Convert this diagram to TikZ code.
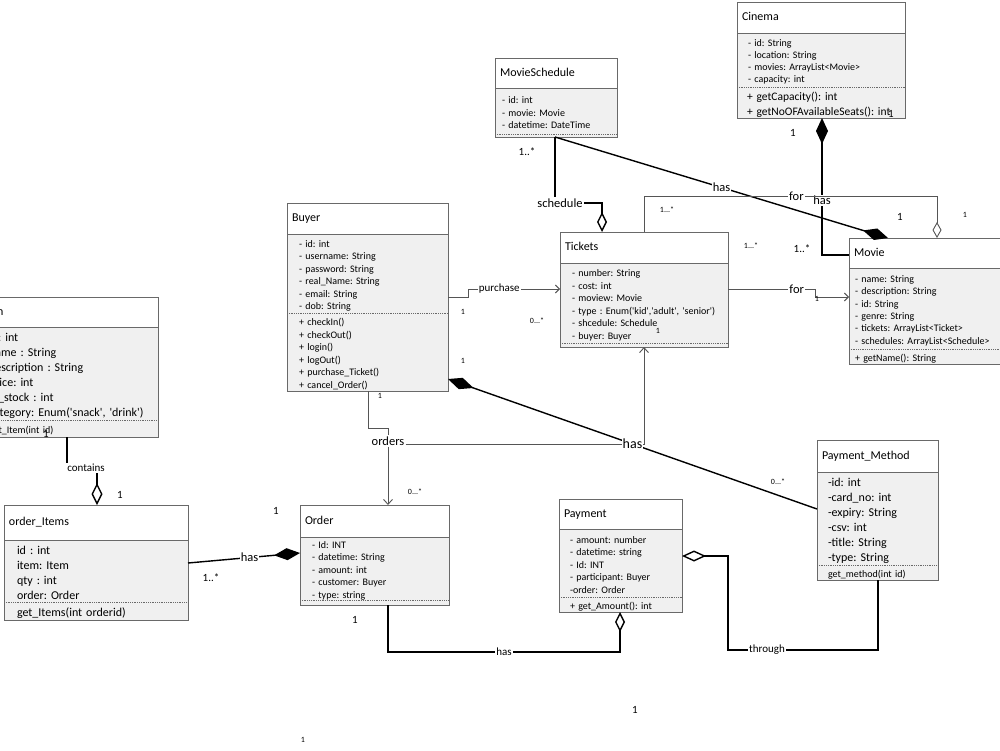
\documentclass[tikz,border=0pt]{standalone}
\usepackage{fontspec}
\setmainfont{Carlito}
\usepackage{xcolor}
\usepackage{tikz}
\usetikzlibrary{arrows.meta}
\definecolor{boxline}{RGB}{105,105,105}
\definecolor{boxfill}{RGB}{240,240,240}
\definecolor{linegray}{RGB}{85,85,85}
\newcommand{\titlefont}{\fontsize{12}{15}\selectfont}
\newcommand{\attrfont}{\fontsize{10}{12.5}\selectfont}
\newcommand{\bigattrfont}{\fontsize{12}{15}\selectfont}
\newcommand{\lblfont}{\fontsize{12.5}{14}\selectfont}
\newcommand{\multfont}{\fontsize{11}{13}\selectfont}
\newcommand{\tinymultfont}{\fontsize{8}{10}\selectfont}
\newcommand{\sq}{\textquotesingle}
\newcommand{\topstrut}{\rule{0pt}{\dimexpr0.7\baselineskip+2.5pt\relax}}
\newcommand{\footstrut}{\rule[\dimexpr2.5pt-0.3\baselineskip\relax]{0pt}{0pt}}
\frenchspacing
\hyphenpenalty=10000

\begin{document}
\begin{tikzpicture}[
    x=1pt, y=-1pt,
    head/.style={
      fill=white,
      anchor=north west,
      outer sep=0pt,
      inner xsep=5pt,
      inner ysep=0pt,
      align=left,
      font=\titlefont,
      execute at begin node=\noindent\strut
    },
    attrs/.style={
      fill=boxfill,
      anchor=north west,
      outer sep=0pt,
      inner xsep=12pt,
      inner ysep=0pt,
      align=left,
      font=\attrfont,
      execute at begin node=\noindent\topstrut,
      execute at end node=\footstrut
    },
    emptyops/.style={
      fill=boxfill,
      anchor=north west,
      outer sep=0pt,
      inner sep=0pt
    },
    classline/.style={
      draw=boxline,
      line width=0.9pt
    },
    divider/.style={
      draw=boxline,
      line width=0.8pt,
      densely dotted
    },
    strong/.style={
      line width=1.4pt,
      draw=black
    },
    assoc/.style={
      line width=0.9pt,
      draw=linegray
    },
    lbl/.style={
      fill=white,
      inner sep=1pt,
      font=\lblfont
    },
    mult/.style={
      inner sep=0pt,
      font=\multfont
    },
    tinymult/.style={
      inner sep=0pt,
      font=\tinymultfont
    }
]
\useasboundingbox (0,0) rectangle (1000,750);
\fill [white] (0,0) rectangle (1000,750);
\clip (0,0) rectangle (1000,750);

% Cinema
\node (cinema) [head, text width=158pt, minimum height=31pt] at (737,2) {Cinema};
\node (cinema-attr) [attrs, inner xsep=11pt, text width=146pt, minimum height=54pt, font=\fontsize{10}{12}\selectfont] at (cinema.south west)
  {- id: String\\- location: String\\- movies: ArrayList<Movie>\\- capacity: int};
\node (cinema-ops) [attrs, inner xsep=10pt, text width=148pt, minimum height=31pt, font=\fontsize{11.5}{15}\selectfont] at (cinema-attr.south west)
  {+ getCapacity(): int\\+ getNoOFAvailableSeats(): int};
\draw [classline] (cinema.north west) rectangle (cinema-ops.south east) (cinema.south west) -- (cinema.south east);
\draw [divider] (cinema-attr.south west) -- (cinema-attr.south east);

% MovieSchedule
\node (ms) [head, text width=112pt, minimum height=30pt] at (495,58) {MovieSchedule};
\node (ms-attr) [attrs, inner xsep=7pt, text width=108pt, minimum height=46pt] at (ms.south west)
  {- id: int\\- movie: Movie\\- datetime: DateTime};
\node (ms-ops) [emptyops, minimum width=122pt, minimum height=3pt] at (ms-attr.south west) {};
\draw [classline] (ms.north west) rectangle (ms-ops.south east) (ms.south west) -- (ms.south east);
\draw [divider] (ms-attr.south west) -- (ms-attr.south east);

% Buyer
\node (buyer) [head, text width=151pt, minimum height=31pt] at (287,203) {Buyer};
\node (buyer-attr) [attrs, text width=137pt, minimum height=79pt] at (buyer.south west)
  {- id: int\\- username: String\\- password: String\\- real\_Name: String\\- email: String\\- dob: String};
\node (buyer-ops) [attrs, text width=137pt, minimum height=78pt] at (buyer-attr.south west)
  {+ checkIn()\\+ checkOut()\\+ login()\\+ logOut()\\+ purchase\_Ticket()\\+ cancel\_Order()};
\draw [classline] (buyer.north west) rectangle (buyer-ops.south east) (buyer.south west) -- (buyer.south east);
\draw [divider] (buyer-attr.south west) -- (buyer-attr.south east);

% Tickets
\node (tickets) [head, text width=158pt, minimum height=31pt] at (560,232) {Tickets};
\node (tickets-attr) [attrs, text width=144pt, minimum height=80pt] at (tickets.south west)
  {- number: String\\- cost: int\\- moview: Movie\\- type : Enum(\sq kid\sq,\sq adult\sq, \sq senior\sq)\\- shcedule: Schedule\\- buyer: Buyer};
\node (tickets-ops) [emptyops, minimum width=168pt, minimum height=4pt] at (tickets-attr.south west) {};
\draw [classline] (tickets.north west) rectangle (tickets-ops.south east) (tickets.south west) -- (tickets.south east);
\draw [divider] (tickets-attr.south west) -- (tickets-attr.south east);

% Movie
\node (movie) [head, text width=152pt, minimum height=30pt] at (849,238) {Movie};
\node (movie-attr) [attrs, inner xsep=6pt, text width=150pt, minimum height=81pt, font=\fontsize{10}{12.3}\selectfont] at (movie.south west)
  {- name: String\\- description: String\\- id: String\\- genre: String\\- tickets: ArrayList<Ticket>\\- schedules: ArrayList<Schedule>};
\node (movie-ops) [attrs, inner xsep=6pt, text width=150pt, minimum height=15pt] at (movie-attr.south west)
  {+ getName(): String};
\draw [classline] (movie.north west) rectangle (movie-ops.south east) (movie.south west) -- (movie.south east);
\draw [divider] (movie-attr.south west) -- (movie-attr.south east);

% Item
\node (item) [head, text width=172pt, minimum height=30pt] at (-24,297) {Item};
\node (item-attr) [attrs, inner xsep=13pt, text width=156pt, minimum height=93pt, font=\bigattrfont] at (item.south west)
  {id: int\\name : String\\description : String\\price: int\\in\_stock : int\\category: Enum(\sq snack\sq, \sq drink\sq)};
\node (item-ops) [attrs, inner xsep=13pt, text width=156pt, minimum height=17pt] at (item-attr.south west)
  {get\_Item(int id)};
\draw [classline] (item.north west) rectangle (item-ops.south east) (item.south west) -- (item.south east);
\draw [divider] (item-attr.south west) -- (item-attr.south east);

% order_Items
\node (oi) [head, text width=174pt, minimum height=35pt] at (4,505) {order\_Items};
\node (oi-attr) [attrs, inner xsep=13pt, text width=158pt, minimum height=62pt, font=\bigattrfont] at (oi.south west)
  {id : int\\item: Item\\qty : int\\order: Order};
\node (oi-ops) [attrs, inner xsep=13pt, text width=158pt, minimum height=18pt, font=\bigattrfont] at (oi-attr.south west)
  {get\_Items(int orderid)};
\draw [classline] (oi.north west) rectangle (oi-ops.south east) (oi.south west) -- (oi.south east);
\draw [divider] (oi-attr.south west) -- (oi-attr.south east);

% Order
\node (order) [head, text width=139pt, minimum height=32pt] at (300,505) {Order};
\node (order-attr) [attrs, text width=125pt, minimum height=63pt] at (order.south west)
  {- Id: INT\\- datetime: String\\- amount: int\\- customer: Buyer\\- type: string};
\node (order-ops) [emptyops, minimum width=149pt, minimum height=5pt] at (order-attr.south west) {};
\draw [classline] (order.north west) rectangle (order-ops.south east) (order.south west) -- (order.south east);
\draw [divider] (order-attr.south west) -- (order-attr.south east);

% Payment
\node (payment) [head, text width=113pt, minimum height=30pt] at (559,499) {Payment};
\node (payment-attr) [attrs, inner xsep=11pt, text width=101pt, minimum height=68pt] at (payment.south west)
  {- amount: number\\- datetime: string\\- Id: INT\\- participant: Buyer\\-order: Order};
\node (payment-ops) [attrs, inner xsep=11pt, text width=101pt, minimum height=15pt] at (payment-attr.south west)
  {+ get\_Amount(): int};
\draw [classline] (payment.north west) rectangle (payment-ops.south east) (payment.south west) -- (payment.south east);
\draw [divider] (payment-attr.south west) -- (payment-attr.south east);

% Payment_Method
\node (pm) [head, text width=111pt, minimum height=32pt] at (817,440) {Payment\_Method};
\node (pm-attr) [attrs, inner xsep=11pt, text width=99pt, minimum height=93pt, font=\bigattrfont] at (pm.south west)
  {-id: int\\-card\_no: int\\-expiry: String\\-csv: int\\-title: String\\-type: String};
\node (pm-ops) [attrs, inner xsep=11pt, text width=99pt, minimum height=15pt] at (pm-attr.south west)
  {get\_method(int id)};
\draw [classline] (pm.north west) rectangle (pm-ops.south east) (pm.south west) -- (pm.south east);
\draw [divider] (pm-attr.south west) -- (pm-attr.south east);

% connector ends
\coordinate (msFoot) at ([xshift=60pt]ms-ops.south west);
\coordinate (cinemaFoot) at ([xshift=85pt]cinema-ops.south west);
\coordinate (tkTop) at ([xshift=84pt]tickets.north west);
\coordinate (tkFoot) at ([xshift=84pt]tickets-ops.south west);
\coordinate (buyerFoot) at ([xshift=81pt]buyer-ops.south west);
\coordinate (itemFoot) at ([xshift=91pt]item-ops.south west);
\coordinate (oiTop) at ([xshift=93pt]oi.north west);
\coordinate (orderFoot) at ([xshift=88pt]order-ops.south west);
\coordinate (payFoot) at ([xshift=61pt]payment-ops.south west);
\coordinate (pmFoot) at ([xshift=61pt]pm-ops.south west);

% MovieSchedule - Movie
\draw [strong, -{Diamond[length=26pt, width=12pt]}] (msFoot) -- node[lbl, pos=0.5] (hasMs) {has} ([xshift=39pt]movie.north west);

% MovieSchedule - Tickets
\node (schedLbl) [lbl] at (560,203) {schedule};
\draw [strong] (msFoot) -- (msFoot |- schedLbl.north);
\draw [strong, -{Diamond[open, length=20pt, width=10pt]}] (schedLbl.east) -| ([xshift=42pt]tickets.north west);

% Cinema - Movie
\draw [strong, {Diamond[length=26pt, width=12pt]}-] (cinemaFoot) |- node[lbl, pos=0.3] (hasCinema) {has} ([yshift=-2pt]movie.west);

% Tickets - Movie (upper)
\draw [assoc, -{Diamond[open, length=16pt, width=9pt]}] (tkTop) -- ++(0,-36) -| node[lbl, pos=0.26] (forUp) {for} ([xshift=88pt]movie.north west);

% Buyer - Tickets
\draw [assoc, -{Straight Barb[length=4pt, width=8pt]}] ([yshift=-23.5pt]buyer-attr.east) -- ++(20,0) |- node[lbl, pos=0.67, font=\multfont] (purchaseLbl) {purchase} ([yshift=14pt]tickets-attr.west);

% Tickets - Movie (lower)
\draw [assoc, -{Straight Barb[length=4pt, width=8pt]}] ([yshift=14pt]tickets-attr.east) -- node[lbl, pos=0.79] (forLow) {for} ++(87,0) |- ([yshift=11.5pt]movie-attr.west);

% Buyer - Order, Order - Tickets
\node (ordersLbl) [lbl] at (388,441) {orders};
\draw [assoc] (buyerFoot) -- ++(0,37) -| (ordersLbl.north);
\draw [assoc, -{Straight Barb[length=5pt, width=9pt]}] (ordersLbl.south) -- ([xshift=88pt]order.north west);
\draw [assoc, -{Straight Barb[length=5pt, width=9pt]}] ([yshift=-3pt]ordersLbl.east) -- ([yshift=-3pt]ordersLbl.east -| tkFoot) -- (tkFoot);

% Buyer - Payment_Method
\draw [strong, {Diamond[length=27pt, width=12pt]}-] ([yshift=-27pt]buyer-ops.east) -- node[lbl, pos=0.5, font=\fontsize{14}{16}\selectfont] (hasPm) {has} ([yshift=9.5pt]pm-attr.west);

% Item - order_Items
\node (containsLbl) [lbl, font=\multfont] at (86,468) {contains};
\draw [strong] (itemFoot) -- (itemFoot |- containsLbl.north);
\draw [strong, -{Diamond[open, length=22pt, width=11pt]}] (containsLbl.south -| oiTop) -- (oiTop);

% order_Items - Order
\draw [strong, -{Diamond[length=26pt, width=12pt]}] ([yshift=8pt]oi-attr.east) -- node[lbl, pos=0.55] (hasOi) {has} ([yshift=15.5pt]order-attr.west);

% Order - Payment
\draw [strong, {Diamond[open, length=20pt, width=10pt]}-] (payFoot) -- ++(0,40) -| node[lbl, pos=0.25, font=\multfont] (hasPay) {has} (orderFoot);

% Payment - Payment_Method
\draw [strong, {Diamond[open, length=24pt, width=11pt]}-] ([yshift=7pt]payment-attr.east) -- ++(46,0) -- ++(0,94) -| node[lbl, pos=0.13, font=\multfont] (throughLbl) {through} (pmFoot);

% multiplicities
\node (mCinemaA) [mult] at (891,114) {1};
\node (mCinemaB) [mult] at (793,133) {1};
\node (mMsA) [mult] at (527,152) {1..*};
\node (mForUpA) [tinymult] at (667,210) {1...*};
\node (mMovieA) [mult] at (900,217) {1};
\node (mForUpB) [tinymult] at (965,215) {1};
\node (mForLowA) [tinymult] at (751,246) {1...*};
\node (mCinemaC) [mult] at (802,249) {1..*};
\node (mPurchA) [tinymult] at (463,312) {1};
\node (mPurchB) [tinymult] at (537,321) {0...*};
\node (mForLowB) [tinymult] at (817,299) {1};
\node (mTkFoot) [tinymult] at (658,331) {1};
\node (mPmA) [tinymult] at (463,361) {1};
\node (mOrdersA) [tinymult] at (380,396) {1};
\node (mItem) [mult] at (46,434) {1};
\node (mOrdersB) [tinymult] at (415,492) {0...*};
\node (mPmB) [tinymult] at (778,482) {0...*};
\node (mOiA) [mult] at (120,495) {1};
\node (mOrderA) [mult] at (276,511) {1};
\node (mOiB) [mult] at (211,578) {1..*};
\node (mOrderB) [mult] at (355,620) {1};
\node (mStrayA) [mult] at (635,710) {1};
\node (mStrayB) [tinymult] at (303,740) {1};

\end{tikzpicture}
\end{document}
